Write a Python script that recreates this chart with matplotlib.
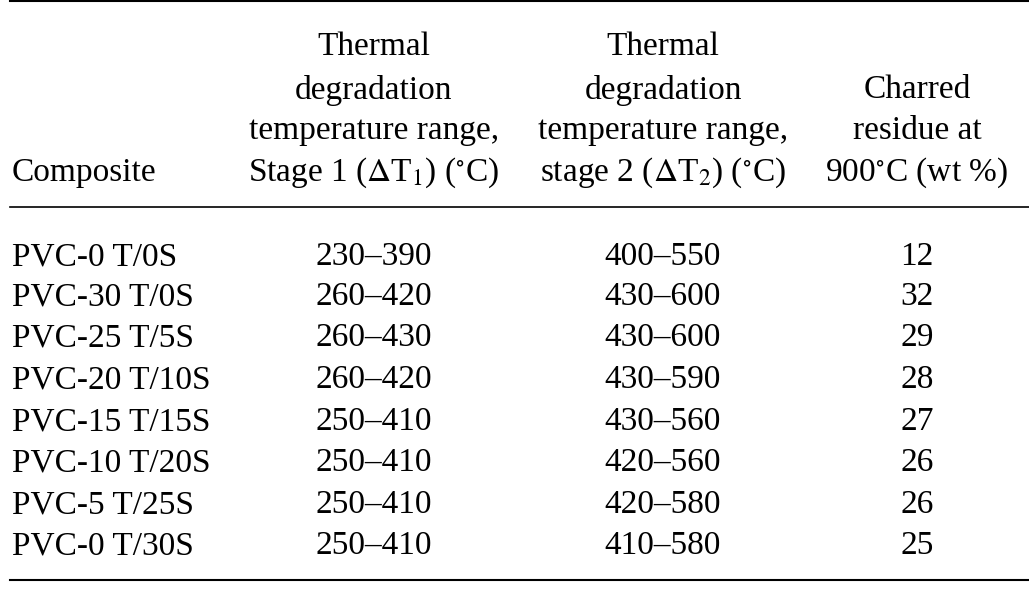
import matplotlib
matplotlib.use('Agg')
import matplotlib.pyplot as plt

plt.rcParams['font.family'] = ['Liberation Serif', 'DejaVu Serif']
plt.rcParams['mathtext.fontset'] = 'stix'

composites = ['PVC-0 T/0S', 'PVC-30 T/0S', 'PVC-25 T/5S', 'PVC-20 T/10S',
              'PVC-15 T/15S', 'PVC-10 T/20S', 'PVC-5 T/25S', 'PVC-0 T/30S']
stage1 = ['230–390', '260–420', '260–430', '260–420', '250–410', '250–410', '250–410', '250–410']
stage2 = ['400–550', '430–600', '430–600', '430–590', '430–560', '420–560', '420–580', '410–580']
residue = ['12', '32', '29', '28', '27', '26', '26', '25']

headers = [
    ['Composite'],
    ['Thermal', 'degradation', 'temperature range,', r'Stage 1 ($\Delta$T$_1$) ($^{\circ}$C)'],
    ['Thermal', 'degradation', 'temperature range,', r'stage 2 ($\Delta$T$_2$) ($^{\circ}$C)'],
    ['Charred', 'residue at', r'900$^{\circ}$C (wt %)'],
]

fs = 24
fig = plt.figure(figsize=(10.29, 5.91), dpi=100)
ax = fig.add_axes([0, 0, 1, 1])
ax.set_xlim(0, 1029)
ax.set_ylim(591, 0)
ax.axis('off')

col_x = [12, 374, 663, 917]
col_ha = ['left', 'center', 'center', 'center']
head_y = [47, 90, 131, 173]

for i, lines in enumerate(headers):
    ys = head_y[-len(lines):]
    for y, t in zip(ys, lines):
        ax.text(col_x[i], y, t, ha=col_ha[i], va='center', fontsize=fs)

row_y = [257, 297, 338, 380, 422, 463, 505, 546]
for j in range(len(composites)):
    vals = [composites[j], stage1[j], stage2[j], residue[j]]
    for i, v in enumerate(vals):
        ax.text(col_x[i], row_y[j], v, ha=col_ha[i], va='center', fontsize=fs)

for y, lw in [(1, 1.5), (207, 1.2), (580, 1.5)]:
    ax.plot([10, 1029], [y, y], color='black', lw=lw)

fig.savefig('out.png', dpi=100)
